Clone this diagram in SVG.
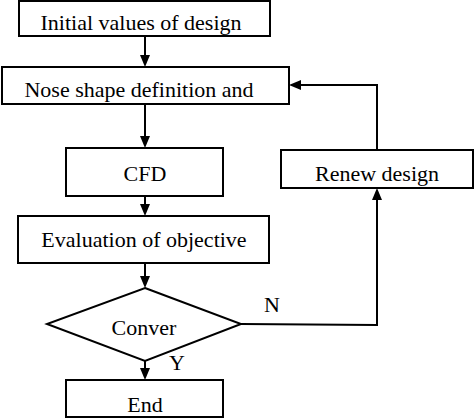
<svg xmlns="http://www.w3.org/2000/svg" width="474" height="418" viewBox="0 0 474 418">
<style>
.box{fill:#fff;stroke:#000;stroke-width:2}
.c{fill:none;stroke:#000;stroke-width:2}
.ah{fill:#000;stroke:none}
</style>
<rect width="474" height="418" fill="#fff"/>
<g id="n1"><rect class="box" x="19" y="1" width="251" height="35"/><text x="141" y="30" font-family="Liberation Serif" font-size="22" text-anchor="middle">Initial values of design</text></g>
<g id="n2"><rect class="box" x="2" y="67" width="287" height="37"/><text x="139" y="97" font-family="Liberation Serif" font-size="22" text-anchor="middle">Nose shape definition and</text></g>
<g id="n3"><rect class="box" x="66" y="148" width="157" height="48"/><text x="145" y="181" font-family="Liberation Serif" font-size="22" text-anchor="middle">CFD</text></g>
<g id="n4"><rect class="box" x="18" y="216" width="251" height="47"/><text x="144" y="247" font-family="Liberation Serif" font-size="22" text-anchor="middle">Evaluation of objective</text></g>
<g id="n5"><polygon class="box" points="145,288 241,324 145,361 47,324"/><text x="144" y="335" font-family="Liberation Serif" font-size="22" text-anchor="middle">Conver</text></g>
<g id="n6"><rect class="box" x="66" y="380" width="157" height="37"/><text x="145" y="412" font-family="Liberation Serif" font-size="22" text-anchor="middle">End</text></g>
<g id="n7"><rect class="box" x="281" y="150" width="192" height="38"/><text x="377" y="181" font-family="Liberation Serif" font-size="22" text-anchor="middle">Renew design</text></g>
<g id="connectors">
<line class="c" x1="145" y1="36" x2="145" y2="56"/><polygon class="ah" points="140,55 150,55 145,67"/>
<line class="c" x1="145" y1="104" x2="145" y2="137"/><polygon class="ah" points="140,136 150,136 145,148"/>
<line class="c" x1="145" y1="196" x2="145" y2="205"/><polygon class="ah" points="140,204 150,204 145,216"/>
<line class="c" x1="145" y1="263" x2="145" y2="277"/><polygon class="ah" points="140,276 150,276 145,288"/>
<line class="c" x1="145" y1="361" x2="145" y2="369"/><polygon class="ah" points="140,368 150,368 145,380"/>
<polyline class="c" points="241,324 377,325 377,199"/><polygon class="ah" points="372,200 382,200 377,188"/>
<polyline class="c" points="377,150 377,85 300,85"/><polygon class="ah" points="301,80 301,90 289,85"/>
<text x="272" y="312" font-family="Liberation Serif" font-size="22" text-anchor="middle">N</text>
<text x="177" y="370" font-family="Liberation Serif" font-size="22" text-anchor="middle">Y</text>
</g>
</svg>
